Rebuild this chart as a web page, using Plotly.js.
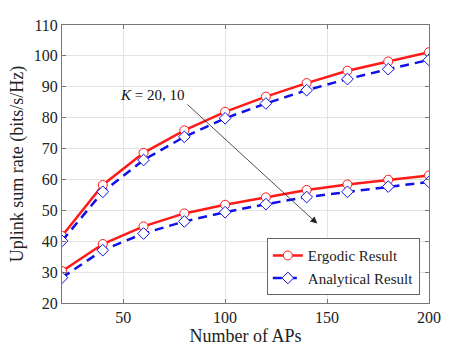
<!DOCTYPE html>
<html>
<head>
<meta charset="utf-8">
<script src="https://cdn.plot.ly/plotly-3.0.1.min.js"></script>
<style>html,body{margin:0;padding:0;background:#fff;}#chart{width:474px;height:348px;}</style>
</head>
<body>
<div id="chart"></div>
<script>
const numAPs = [20, 40, 60, 80, 100, 120, 140, 160, 180, 200];
const ergodicK20 = [41.7, 58.2, 68.6, 75.9, 81.9, 86.8, 91.2, 95.2, 98.2, 101.2];
const analyticalK20 = [40.1, 56.0, 66.3, 73.8, 79.8, 84.6, 88.9, 92.5, 95.7, 98.7];
const ergodicK10 = [30.3, 39.1, 44.8, 49.0, 51.8, 54.2, 56.6, 58.4, 59.9, 61.3];
const analyticalK10 = [28.2, 37.1, 42.5, 46.4, 49.4, 52.0, 54.3, 56.0, 57.7, 59.2];
const xTickVals = [50, 100, 150, 200];
const yTickVals = [20, 30, 40, 50, 60, 70, 80, 90, 100, 110];
const annotationText = '<i>K</i> = 20, 10';
const arrowTail = [80.8, 84.7];
const arrowTip = [145.2, 45.7];

const RED = '#ff1a1a';
const BLUE = '#1010e8';
const FONT = 'Liberation Serif';

function ergodic(y, show) {
  return {
    x: numAPs, y: y, type: 'scatter', mode: 'lines+markers',
    name: 'Ergodic Result', showlegend: show,
    line: {color: RED, width: 2.5},
    marker: {symbol: 'circle', size: 9, color: 'white', line: {color: RED, width: 1}}
  };
}
function analytical(y, show) {
  return {
    x: numAPs, y: y, type: 'scatter', mode: 'lines+markers',
    name: 'Analytical Result', showlegend: show,
    line: {color: BLUE, width: 2.5, dash: '9px,6px'},
    marker: {symbol: 'diamond', size: 9, color: 'white', line: {color: BLUE, width: 1}}
  };
}

const data = [
  ergodic(ergodicK20, true),
  analytical(analyticalK20, true),
  ergodic(ergodicK10, false),
  analytical(analyticalK10, false)
];

const axisCommon = {
  showline: true, linecolor: '#777', linewidth: 1, mirror: 'ticks',
  ticks: 'inside', ticklen: 4, tickcolor: '#777',
  showgrid: true, gridcolor: '#e3e3e3', gridwidth: 1,
  zeroline: false,
  tickfont: {family: FONT, size: 16, color: '#222'}
};

const layout = {
  width: 474, height: 348,
  margin: {l: 62, r: 45, t: 25, b: 45},
  paper_bgcolor: 'white', plot_bgcolor: 'white',
  font: {family: FONT, color: '#222'},
  xaxis: Object.assign({}, axisCommon, {
    range: [20, 200], tickvals: xTickVals,
    title: {text: 'Number of APs', font: {family: FONT, size: 18, color: '#222'}, standoff: 4}
  }),
  yaxis: Object.assign({}, axisCommon, {
    range: [20, 110], tickvals: yTickVals,
    title: {text: 'Uplink sum rate (bits/s/Hz)', font: {family: FONT, size: 18, color: '#222'}, standoff: 5}
  }),
  legend: {
    x: 0.975, y: 0.028, xanchor: 'right', yanchor: 'bottom',
    bgcolor: 'white', bordercolor: '#666', borderwidth: 1,
    font: {family: FONT, size: 15, color: '#222'},
    tracegroupgap: 0, itemwidth: 30
  },
  annotations: [
    {
      x: arrowTip[0], y: arrowTip[1], ax: arrowTail[0], ay: arrowTail[1],
      xref: 'x', yref: 'y', axref: 'x', ayref: 'y',
      showarrow: true, arrowhead: 2, arrowsize: 1.7, arrowwidth: 0.8, arrowcolor: '#222', text: ''
    },
    {
      x: 64, y: 87.4, xref: 'x', yref: 'y', text: annotationText, showarrow: false,
      font: {family: FONT, size: 15, color: '#111'}
    }
  ]
};

Plotly.newPlot('chart', data, layout, {displayModeBar: false, staticPlot: true});
</script>
</body>
</html>
